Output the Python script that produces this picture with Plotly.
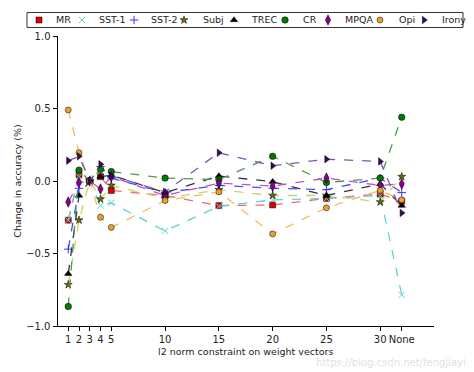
import plotly.graph_objects as go

# ---- data ----
X_POS = [1, 2, 3, 4, 5, 10, 15, 20, 25, 30, 32]
X_LABELS = ['1', '2', '3', '4', '5', '10', '15', '20', '25', '30', 'None']
Y_TICKS = [-1.0, -0.5, 0.0, 0.5, 1.0]

SERIES = ['MR', 'SST-1', 'SST-2', 'Subj', 'TREC', 'CR', 'MPQA', 'Opi', 'Irony']
MR = [-0.27, 0.045, 0.0, 0.03, -0.065, -0.10, -0.17, -0.165, -0.12, -0.09, -0.14]
SST1 = [-0.27, 0.03, 0.0, -0.17, -0.15, -0.345, -0.175, -0.13, -0.12, -0.10, -0.785]
SST2 = [-0.47, -0.05, 0.0, 0.10, 0.02, -0.08, -0.03, -0.05, -0.06, 0.02, -0.08]
SUBJ = [-0.715, -0.27, 0.0, -0.125, -0.03, -0.12, -0.06, -0.10, -0.10, -0.145, 0.03]
TREC = [-0.64, -0.10, 0.0, 0.03, 0.04, -0.08, 0.035, -0.005, -0.10, -0.02, -0.17]
CR = [-0.865, 0.075, 0.0, 0.08, 0.065, 0.02, 0.01, 0.17, -0.01, 0.02, 0.44]
MPQA = [-0.145, -0.01, 0.0, -0.055, 0.03, -0.10, -0.015, -0.035, 0.02, -0.03, -0.02]
OPI = [0.49, 0.195, 0.0, -0.25, -0.32, -0.135, -0.075, -0.365, -0.185, -0.065, -0.13]
IRONY = [0.14, 0.17, 0.0, 0.115, 0.035, -0.075, 0.195, 0.105, 0.15, 0.135, -0.22]
VALUES = [MR, SST1, SST2, SUBJ, TREC, CR, MPQA, OPI, IRONY]

# ---- styles ----
MARKER_COLORS = ['#dd0000', '#5fd3d8', '#3333ff', '#6b6b00', '#000000',
                 '#007a00', '#8b008b', '#e8a030', '#3a0a5a']
LINE_COLORS = ['#f06a6a', '#60d0d8', '#4a4aff', '#d0d060', '#33334d',
               '#4d9a4d', '#c050c8', '#f7b868', '#7a55b0']
SYMBOLS = ['square', 'x-thin', 'cross-thin', 'star', 'triangle-up',
           'circle', 'diamond-tall', 'circle', 'triangle-right']
SIZES = [6, 6, 6, 6, 6.5, 6.5, 7.5, 6, 6.5]
THIN = {'x-thin', 'cross-thin'}

W, H = 474, 372
FONT = 'DejaVu Sans'

fig = go.Figure()

for name, vals, mc, lc, sym, sz in zip(SERIES, VALUES, MARKER_COLORS,
                                        LINE_COLORS, SYMBOLS, SIZES):
    thin = sym in THIN
    fig.add_trace(go.Scatter(
        x=X_POS, y=vals, mode='lines+markers', name=name, showlegend=False,
        line=dict(color=lc, width=1.3, dash='dash'),
        marker=dict(symbol=sym, size=sz, color=mc,
                    line=dict(color=mc if thin else '#000000',
                              width=1 if thin else 0.5)),
        cliponaxis=False,
    ))

# ---- manual matplotlib-style legend (one row, boxed) ----
LEG_MARK_X = [39, 82, 134, 184, 234, 285, 328, 380, 424]
LEG_TEXT_X = [54, 97, 149, 201, 249, 301, 343, 397, 440]
LEG_Y = 20
LEG_TOP = 34  # pixel height of legend strip
for name, mc, sym, sz, mx, tx in zip(SERIES, MARKER_COLORS, SYMBOLS, SIZES,
                                     LEG_MARK_X, LEG_TEXT_X):
    thin = sym in THIN
    fig.add_trace(go.Scatter(
        x=[mx], y=[LEG_Y], mode='markers', xaxis='x2', yaxis='y2',
        showlegend=False, hoverinfo='skip', cliponaxis=False,
        marker=dict(symbol=sym, size=sz, color=mc,
                    line=dict(color=mc if thin else '#000000',
                              width=1 if thin else 0.5)),
    ))
    fig.add_annotation(x=tx / W, y=1 - LEG_Y / H, xref='paper', yref='paper',
                       text=name, showarrow=False, xanchor='left',
                       yanchor='middle', font=dict(size=9.5, color='#222'))

fig.add_shape(type='rect', xref='paper', yref='paper',
              x0=27 / W, x1=463 / W, y0=1 - 27.5 / H, y1=1 - 12.5 / H,
              line=dict(color='#333333', width=1), fillcolor='rgba(0,0,0,0)')

# watermark
fig.add_annotation(x=468 / W, y=1 - 362 / H, xref='paper', yref='paper',
                   text='https://blog.csdn.net/fengjiayi', showarrow=False,
                   xanchor='right', yanchor='middle',
                   font=dict(size=10, color='#e2e2e2'))

axis_common = dict(showgrid=False, zeroline=False, showline=True,
                   linecolor='#000000', linewidth=1, ticks='outside',
                   ticklen=4, tickwidth=1, tickcolor='#000000',
                   automargin=False, mirror=False,
                   tickfont=dict(family=FONT, size=10, color='#222'))

fig.update_layout(
    width=W, height=H, template='none',
    paper_bgcolor='white', plot_bgcolor='rgba(0,0,0,0)',
    font=dict(family=FONT, size=10, color='#222'),
    margin=dict(l=0, r=0, t=0, b=0),
    xaxis=dict(domain=[57.5 / W, 434 / W], range=[0, 35], anchor='y',
               tickmode='array', tickvals=X_POS, ticktext=X_LABELS,
               title=dict(text='l2 norm constraint on weight vectors',
                          font=dict(size=9.5), standoff=4),
               **axis_common),
    yaxis=dict(domain=[1 - 326 / H, 1 - 36 / H], range=[-1, 1], anchor='x',
               tickmode='array', tickvals=Y_TICKS,
               ticktext=['\u22121.0', '\u22120.5', '0.0', '0.5', '1.0'],
               title=dict(text='Change in accuracy (%)',
                          font=dict(size=9.5), standoff=2),
               **axis_common),
    xaxis2=dict(domain=[0, 1], range=[0, W], anchor='y2', visible=False,
                fixedrange=True),
    yaxis2=dict(domain=[1 - LEG_TOP / H, 1], range=[LEG_TOP, 0], anchor='x2',
                visible=False, fixedrange=True),
    showlegend=False,
)

fig.write_html('out.html',
               config={'displayModeBar': False},
               post_script="document.body.style.margin='0';"
                           "document.body.style.overflow='hidden';")
